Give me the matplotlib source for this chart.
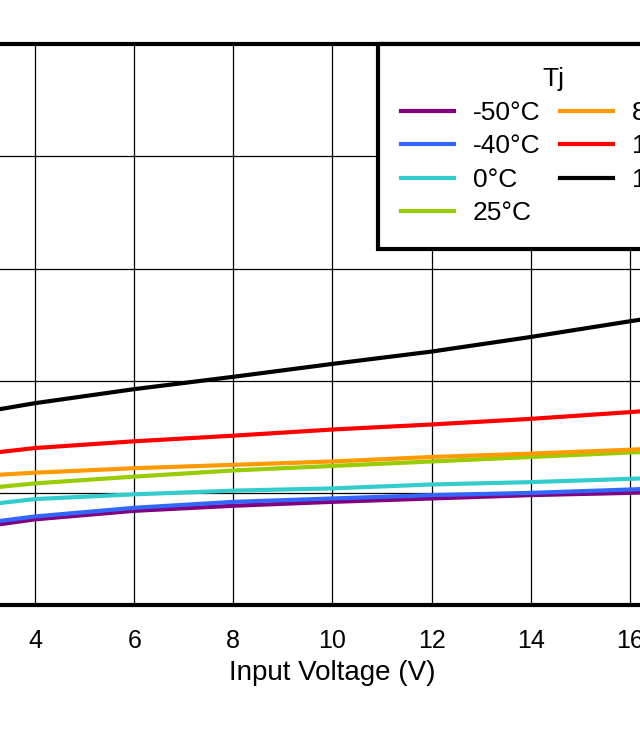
import matplotlib
matplotlib.use("Agg")
import matplotlib.pyplot as plt

plt.rcParams['font.family'] = ['Liberation Sans', 'DejaVu Sans']

# input voltage (V)
vin = [3.2, 4, 6, 8, 10, 12, 14, 16, 16.3]

# current per junction temperature
i_m50 = [7.15, 7.64, 8.4, 8.85, 9.2, 9.5, 9.8, 10.0, 10.05]
i_m40 = [7.45, 7.9, 8.67, 9.2, 9.5, 9.8, 10.0, 10.3, 10.35]
i_0 = [9.05, 9.45, 9.87, 10.2, 10.4, 10.75, 10.96, 11.25, 11.3]
i_25 = [10.5, 10.85, 11.45, 12.0, 12.4, 12.8, 13.2, 13.6, 13.65]
i_85 = [11.6, 11.8, 12.2, 12.5, 12.8, 13.2, 13.5, 13.85, 13.9]
i_125 = [13.6, 14.0, 14.6, 15.1, 15.65, 16.1, 16.6, 17.2, 17.3]
i_150 = [17.4, 18.0, 19.25, 20.35, 21.5, 22.6, 23.9, 25.3, 25.5]

series = [i_m50, i_m40, i_0, i_25, i_85, i_125, i_150]
labels = ['-50°C', '-40°C', '0°C', '25°C', '85°C', '125°C', '150°C']
colors = ['#800080', '#3366FF', '#33CCCC', '#99CC00', '#FF9900', '#FF0000', '#000000']

fig = plt.figure(figsize=(6.4, 7.34), dpi=100)
ax = fig.add_axes([-0.1, 0.1757, 1.239, 0.764])

for vals, lab, col in zip(series, labels, colors):
    ax.plot(vin, vals, color=col, lw=3, label=lab)

ax.set_xlim(2, 18)
ax.set_ylim(0, 50)
ax.set_xticks(range(2, 19, 2))
ax.set_yticks(range(0, 51, 10))
ax.grid(True, color='black', lw=0.9)
ax.set_axisbelow(True)
for s in ax.spines.values():
    s.set_linewidth(3)
ax.tick_params(length=0, labelsize=18, pad=17)
ax.set_xlabel('Input Voltage (V)', fontsize=20, labelpad=5)
ax.set_ylabel('Quiescent Current (µA)', fontsize=18)

leg = ax.legend(title='Tj', ncol=2, loc='upper right', bbox_to_anchor=(1, 1),
                borderaxespad=0, fontsize=19, title_fontsize=19,
                handlelength=2.0, handletextpad=0.72, columnspacing=0.75,
                labelspacing=0.36, borderpad=0.88, fancybox=False, framealpha=1)
leg.get_frame().set_edgecolor('black')
leg.get_frame().set_linewidth(3)

fig.savefig('out.png', dpi=100)
